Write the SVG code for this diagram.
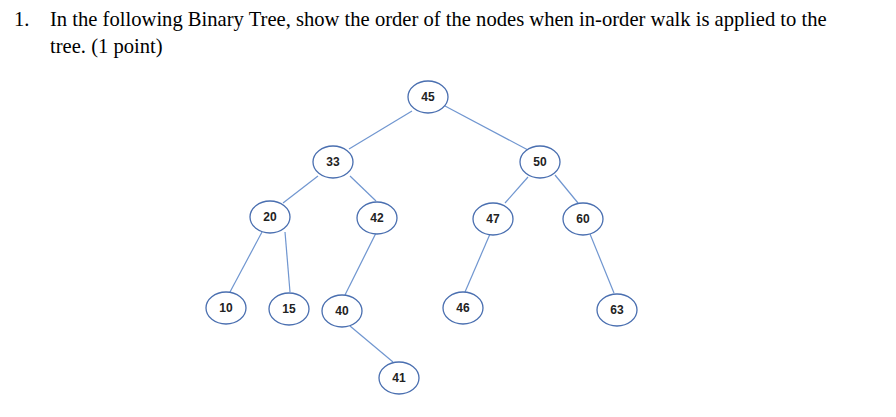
<svg xmlns="http://www.w3.org/2000/svg" width="896" height="417" viewBox="0 0 896 417">
<style>
.q{font-family:"Liberation Serif",serif;font-size:20.6px;fill:#000}
.n ellipse{fill:#fff;stroke:#4a6fb0;stroke-width:1.3}
.n text{font-family:"Liberation Sans",Arial,sans-serif;font-size:12px;font-weight:bold;fill:#222;text-anchor:middle}
#edges line{stroke:#7096d0;stroke-width:1.2}
</style>
<rect width="896" height="417" fill="#fff"/>
<text class="q" x="14" y="26">1.</text>
<text class="q" x="50" y="26">In the following Binary Tree, show the order of the nodes when in-order walk is applied to the</text>
<text class="q" x="50" y="53">tree. (1 point)</text>
<g id="edges">
<line x1="412" y1="111" x2="349" y2="149"/>
<line x1="445" y1="106" x2="528" y2="150"/>
<line x1="318" y1="176" x2="283" y2="203"/>
<line x1="350" y1="176" x2="376" y2="201"/>
<line x1="262" y1="232" x2="230" y2="292"/>
<line x1="285" y1="232" x2="290" y2="292"/>
<line x1="376" y1="233" x2="345" y2="295"/>
<line x1="350" y1="326" x2="393" y2="362"/>
<line x1="528" y1="177" x2="505" y2="203"/>
<line x1="555" y1="175" x2="578" y2="203"/>
<line x1="490" y1="234" x2="465" y2="292"/>
<line x1="590" y1="234" x2="614" y2="293"/>
</g>
<g id="n45" class="n"><ellipse cx="428" cy="97" rx="20" ry="16"/><text x="428" y="101">45</text></g>
<g id="n33" class="n"><ellipse cx="333" cy="162" rx="20" ry="16"/><text x="333" y="166">33</text></g>
<g id="n50" class="n"><ellipse cx="540" cy="162" rx="20" ry="16"/><text x="540" y="166">50</text></g>
<g id="n20" class="n"><ellipse cx="270" cy="217" rx="20" ry="16"/><text x="270" y="221">20</text></g>
<g id="n42" class="n"><ellipse cx="377" cy="218" rx="20" ry="16"/><text x="377" y="222">42</text></g>
<g id="n47" class="n"><ellipse cx="493" cy="219" rx="20" ry="16"/><text x="493" y="223">47</text></g>
<g id="n60" class="n"><ellipse cx="583" cy="219" rx="20" ry="16"/><text x="583" y="223">60</text></g>
<g id="n10" class="n"><ellipse cx="226" cy="308" rx="20" ry="16"/><text x="226" y="312">10</text></g>
<g id="n15" class="n"><ellipse cx="289" cy="309" rx="20" ry="16"/><text x="289" y="313">15</text></g>
<g id="n40" class="n"><ellipse cx="342" cy="311" rx="20" ry="16"/><text x="342" y="315">40</text></g>
<g id="n46" class="n"><ellipse cx="463" cy="308" rx="20" ry="16"/><text x="463" y="312">46</text></g>
<g id="n63" class="n"><ellipse cx="617" cy="310" rx="20" ry="16"/><text x="617" y="314">63</text></g>
<g id="n41" class="n"><ellipse cx="399" cy="378" rx="20" ry="16"/><text x="399" y="382">41</text></g>
</svg>
